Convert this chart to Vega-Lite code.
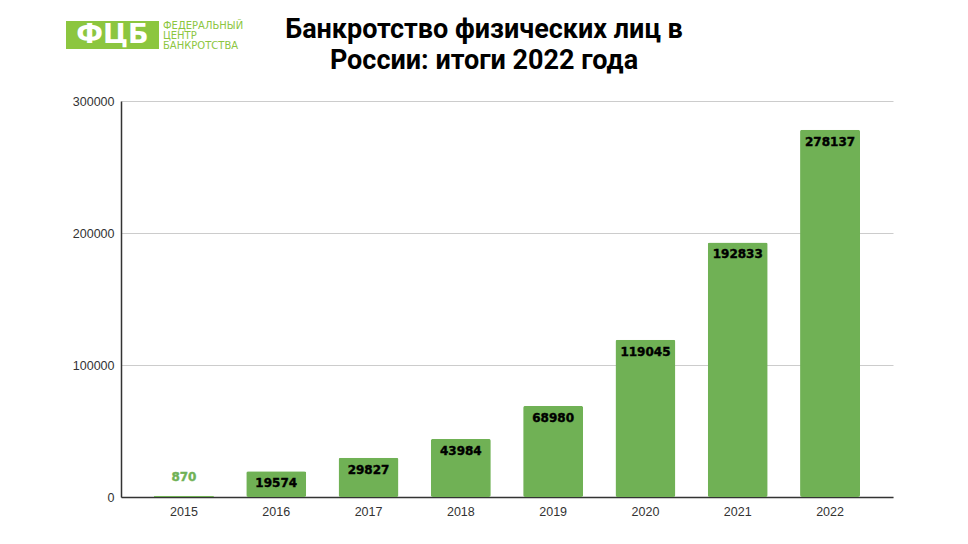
{
  "$schema": "https://vega.github.io/schema/vega-lite/v6.json",
  "background": "white",
  "padding": {"left": 66, "top": 15, "right": 75, "bottom": 20},
  "config": {"view": {"stroke": null}},
  "spacing": 20,
  "vconcat": [
    {
      "spacing": 4,
      "hconcat": [
        {
          "width": 38,
          "height": 28,
          "data": {"values": [{"logo": "ФЦБ"}]},
          "encoding": {
            "x": {"field": "logo", "type": "nominal", "axis": null, "scale": {"padding": 0}},
            "y": {"field": "logo", "type": "nominal", "axis": null, "scale": {"padding": 0}}
          },
          "layer": [
            {"mark": {"type": "rect", "color": "#8cc63f", "width": 93, "xOffset": -27.5}},
            {
              "mark": {"type": "text", "color": "white", "font": "DejaVu Sans", "fontWeight": "bold", "fontSize": 27, "baseline": "middle", "dx": -27.5},
              "encoding": {"text": {"field": "logo"}}
            }
          ]
        },
        {
          "width": 117,
          "height": 30,
          "data": {"values": [
            {"line": "ФЕДЕРАЛЬНЫЙ", "col": "a"},
            {"line": "ЦЕНТР", "col": "a"},
            {"line": "БАНКРОТСТВА", "col": "a"}
          ]},
          "mark": {"type": "text", "align": "left", "baseline": "middle", "color": "#8cc63f", "font": "DejaVu Sans", "fontSize": 10},
          "encoding": {
            "x": {"field": "col", "type": "nominal", "axis": null, "bandPosition": 0, "scale": {"type": "band", "padding": 0}},
            "y": {"field": "line", "type": "nominal", "axis": null, "sort": null, "scale": {"type": "band", "padding": 0}},
            "text": {"field": "line"}
          }
        },
        {
          "width": 400,
          "height": 49,
          "data": {"values": [
            {"line": "Банкротство физических лиц в"},
            {"line": "России: итоги 2022 года"}
          ]},
          "mark": {"type": "text", "baseline": "middle", "color": "black", "font": "Roboto", "fontWeight": "bold", "fontSize": 27},
          "encoding": {
            "y": {"field": "line", "type": "nominal", "axis": null, "sort": null, "scale": {"type": "point", "padding": 0.29}},
            "text": {"field": "line"}
          }
        }
      ]
    },
    {
      "width": 772,
      "height": 396,
      "data": {"values": [
        {"year": "2015", "cases": 870},
        {"year": "2016", "cases": 19574},
        {"year": "2017", "cases": 29827},
        {"year": "2018", "cases": 43984},
        {"year": "2019", "cases": 68980},
        {"year": "2020", "cases": 119045},
        {"year": "2021", "cases": 192833},
        {"year": "2022", "cases": 278137}
      ]},
      "encoding": {
        "x": {
          "field": "year",
          "type": "ordinal",
          "title": null,
          "scale": {"paddingInner": 0.35, "paddingOuter": 0.357},
          "axis": {"labelAngle": 0, "labelFont": "Liberation Sans", "labelFontSize": 12.5, "labelColor": "#333333", "labelPadding": 8, "ticks": false, "domainColor": "#333333", "domainWidth": 1.5}
        },
        "y": {
          "field": "cases",
          "type": "quantitative",
          "title": null,
          "scale": {"domain": [0, 300000], "nice": false},
          "axis": {"values": [0, 100000, 200000, 300000], "format": "d", "labelFont": "Liberation Sans", "labelFontSize": 12.5, "labelColor": "#333333", "labelPadding": 7, "ticks": false, "minExtent": 55, "maxExtent": 55, "domainColor": "#333333", "domainWidth": 1.5, "gridColor": "#cccccc"}
        }
      },
      "layer": [
        {"mark": {"type": "bar", "color": "#70b155", "cornerRadius": 2}},
        {
          "transform": [{"filter": "datum.cases >= 10000"}],
          "mark": {"type": "text", "dy": 12, "baseline": "middle", "color": "black", "stroke": "black", "strokeWidth": 0.4, "font": "DejaVu Sans", "fontWeight": "bold", "fontSize": 12},
          "encoding": {"text": {"field": "cases", "type": "quantitative", "format": "d"}}
        },
        {
          "transform": [{"filter": "datum.cases < 10000"}],
          "mark": {"type": "text", "dy": -19, "baseline": "middle", "color": "#70b155", "stroke": "#70b155", "strokeWidth": 0.4, "font": "DejaVu Sans", "fontWeight": "bold", "fontSize": 12},
          "encoding": {"text": {"field": "cases", "type": "quantitative", "format": "d"}}
        }
      ]
    }
  ]
}
